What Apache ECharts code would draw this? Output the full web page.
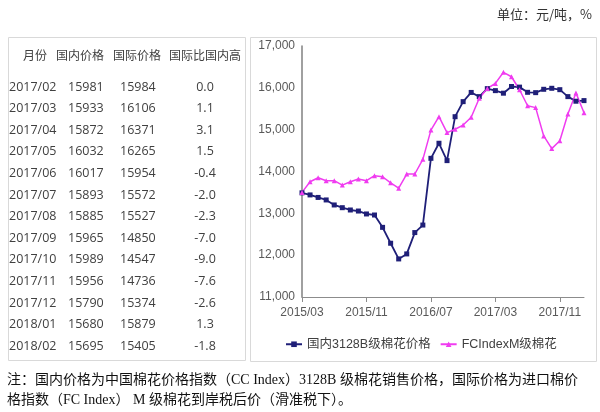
<!DOCTYPE html>
<html><head><meta charset="utf-8">
<script src="https://cdn.jsdelivr.net/npm/echarts@6/dist/echarts.min.js"></script>
<style>html,body{margin:0;padding:0;background:#fff;}#c{width:600px;height:412px;}</style>
</head><body><div id="c"></div>
<script>
// Chart data (monthly, 2015/03 - 2018/02)
const months = [];
(function(){ let y=2015,m=3; for(let i=0;i<36;i++){ months.push(y+'/'+(m<10?'0'+m:m)); m++; if(m>12){m=1;y++;} } })();
const domesticPrice = [13490,13440,13380,13320,13200,13135,13080,13055,12985,12960,12665,12285,11910,12030,12540,12720,14315,14675,14260,15310,15670,15890,15790,15981,15933,15872,16032,16017,15893,15885,15965,15989,15956,15790,15680,15695];
const intlPrice = [13500,13755,13850,13780,13780,13675,13755,13820,13780,13900,13875,13730,13600,13940,13940,14290,14990,15310,14930,15010,15110,15295,15750,15984,16106,16371,16265,15954,15572,15527,14850,14547,14736,15374,15879,15405];
const seriesNames = ['国内3128B级棉花价格','FCIndexM级棉花'];

// Table data
const tableHeader = ['月份','国内价格','国际价格','国际比国内高'];
const tableMonths = ['2017/02','2017/03','2017/04','2017/05','2017/06','2017/07','2017/08','2017/09','2017/10','2017/11','2017/12','2018/01','2018/02'];
const tableDomestic = [15981,15933,15872,16032,16017,15893,15885,15965,15989,15956,15790,15680,15695];
const tableIntl = [15984,16106,16371,16265,15954,15572,15527,14850,14547,14736,15374,15879,15405];
const tableDiff = ['0.0','1.1','3.1','1.5','-0.4','-2.0','-2.3','-7.0','-9.0','-7.6','-2.6','1.3','-1.8'];

const unitText = '单位：元/吨，%';
const noteLines = ['注：国内价格为中国棉花价格指数（CC Index）3128B 级棉花销售价格，国际价格为进口棉价','格指数（FC Index） M 级棉花到岸税后价（滑准税下）。'];

const CJK = '"Noto Sans CJK SC",sans-serif';
const TFONT = '"Open Sans","Noto Sans CJK SC",sans-serif';
const AFONT = '"Liberation Sans","Noto Sans CJK SC",sans-serif';
const SFONT = '"Liberation Serif","Noto Sans CJK SC",serif';
const txtColor = '#404040';
const g = [];
// boxes
g.push({type:'rect',shape:{x:8.5,y:37.5,width:237,height:323},style:{fill:'none',stroke:'#d9d9d9',lineWidth:1}});
g.push({type:'rect',shape:{x:250.5,y:37.5,width:346,height:324},style:{fill:'none',stroke:'#d9d9d9',lineWidth:1}});
// header
const hx = [35,80,137,205];
tableHeader.forEach((t,i)=>g.push({type:'text',x:hx[i],y:55,style:{text:t,font:'12px '+CJK,fill:txtColor,align:'center',verticalAlign:'middle'}}));
tableMonths.forEach((t,i)=>{
  const y = 87 + i*21.6;
  g.push({type:'text',x:9,y:y,style:{text:t,font:'12.5px '+TFONT,fill:txtColor,align:'left',verticalAlign:'middle'}});
  g.push({type:'text',x:68,y:y,style:{text:String(tableDomestic[i]),font:'12.5px '+TFONT,fill:txtColor,align:'left',verticalAlign:'middle'}});
  g.push({type:'text',x:120,y:y,style:{text:String(tableIntl[i]),font:'12.5px '+TFONT,fill:txtColor,align:'left',verticalAlign:'middle'}});
  g.push({type:'text',x:205,y:y,style:{text:tableDiff[i],font:'12.5px '+TFONT,fill:txtColor,align:'center',verticalAlign:'middle'}});
});
g.push({type:'text',x:592,y:14,style:{text:unitText,font:'13px '+CJK,fill:'#333',align:'right',verticalAlign:'middle'}});
noteLines.forEach((t,i)=>g.push({type:'text',x:7,y:380+i*20,style:{text:t,font:'14px '+SFONT,fill:'#111',align:'left',verticalAlign:'middle'}}));

const chart = echarts.init(document.getElementById('c'));
chart.setOption({
  animation:false,
  textStyle:{fontFamily:AFONT},
  grid:{left:302,right:16,top:46,bottom:115},
  legend:{left:280,top:333,itemGap:9,itemWidth:16,itemHeight:7,textStyle:{fontSize:12.5,color:'#404040',fontFamily:AFONT},
    data:[{name:seriesNames[0]},{name:seriesNames[1]}]},
  xAxis:{type:'category',data:months,boundaryGap:false,
    axisLine:{lineStyle:{color:'#8c8c8c',width:1}},
    axisTick:{interval:7,length:5,lineStyle:{color:'#8c8c8c'}},
    axisLabel:{interval:7,color:'#595959',fontSize:12,margin:10,fontFamily:AFONT}},
  yAxis:{type:'value',min:11000,max:17000,interval:1000,
    axisLine:{show:true,lineStyle:{color:'#808080',width:1.5}},
    axisTick:{show:false},splitLine:{show:false},
    axisLabel:{color:'#595959',fontSize:12,margin:7,fontFamily:AFONT,formatter:v=>v.toLocaleString('en-US')}},
  series:[
    {name:seriesNames[0],type:'line',data:domesticPrice,symbol:'rect',symbolSize:5,
      lineStyle:{color:'#1f1f78',width:1.8},itemStyle:{color:'#1f1f78'}},
    {name:seriesNames[1],type:'line',data:intlPrice,symbol:'triangle',symbolSize:5,
      lineStyle:{color:'#f03cf0',width:1.5},itemStyle:{color:'#f03cf0'}}
  ],
  graphic:g
});
</script></body></html>
